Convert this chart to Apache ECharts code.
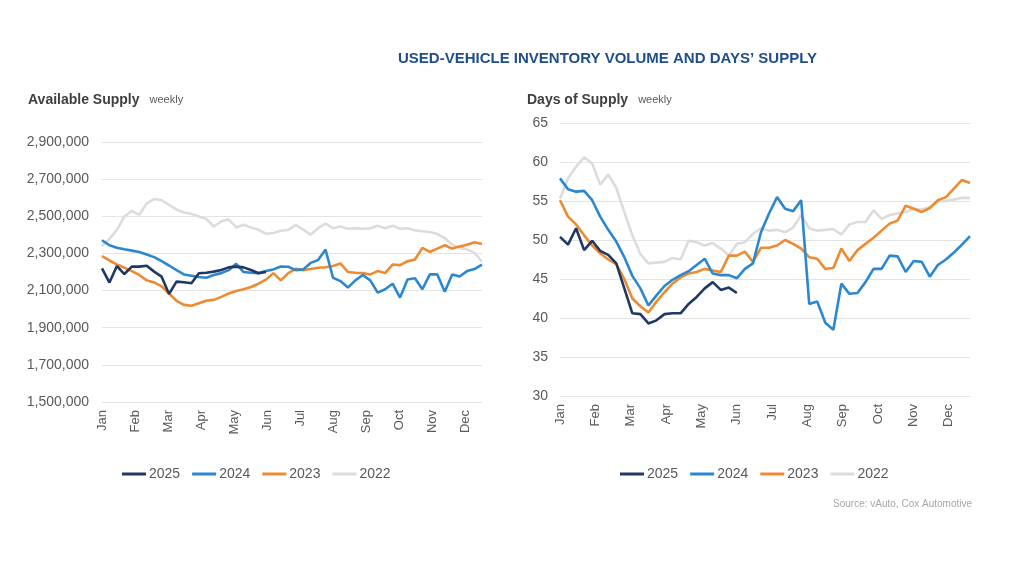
<!DOCTYPE html>
<html>
<head>
<meta charset="utf-8">
<script src="https://cdn.jsdelivr.net/npm/echarts@6/dist/echarts.min.js"></script>
<style>
html,body{margin:0;padding:0;background:#fff;}
#chart{width:1024px;height:576px;}
</style>
</head>
<body>
<div id="chart"></div>
<script>
// ---- Data ----
const weeks = [1,2,3,4,5,6,7,8,9,10,11,12,13,14,15,16,17,18,19,20,21,22,23,24,25,26,
  27,28,29,30,31,32,33,34,35,36,37,38,39,40,41,42,43,44,45,46,47,48,49,50,51,52];
const months = ['Jan','Feb','Mar','Apr','May','Jun','Jul','Aug','Sep','Oct','Nov','Dec'];
const years = ['2025','2024','2023','2022'];

// Available Supply (units), weekly
const supply2025 = [2220000,2143000,2232000,2189000,2229000,2229000,2234000,2202000,2175000,2082000,2148000,2145000,
  2139000,2193000,2196000,2202000,2211000,2225000,2229000,2225000,2211000,2193000,2200000];
const supply2024 = [2371000,2344000,2331000,2322000,2315000,2308000,2294000,2280000,2258000,2235000,2210000,2187000,
  2180000,2173000,2169000,2184000,2194000,2210000,2244000,2200000,2196000,2194000,2205000,2214000,2230000,2228000,
  2210000,2214000,2249000,2264000,2321000,2169000,2151000,2116000,2155000,2184000,2155000,2089000,2107000,2137000,
  2062000,2160000,2166000,2107000,2187000,2187000,2094000,2187000,2176000,2205000,2216000,2240000];
const supply2023 = [2285000,2262000,2240000,2223000,2205000,2184000,2155000,2144000,2123000,2084000,2045000,2023000,
  2018000,2032000,2045000,2050000,2066000,2084000,2098000,2107000,2119000,2137000,2159000,2194000,2155000,2194000,
  2217000,2210000,2216000,2223000,2226000,2232000,2246000,2200000,2196000,2194000,2187000,2205000,2194000,2240000,
  2237000,2258000,2267000,2330000,2308000,2326000,2344000,2326000,2337000,2347000,2360000,2351000];
const supply2022 = [2340000,2378000,2427000,2499000,2529000,2508000,2570000,2593000,2586000,2561000,2536000,2520000,
  2513000,2499000,2486000,2445000,2472000,2484000,2440000,2454000,2440000,2427000,2406000,2410000,2422000,2427000,
  2454000,2428000,2401000,2436000,2460000,2436000,2445000,2433000,2436000,2433000,2436000,2449000,2436000,2449000,
  2433000,2436000,2424000,2419000,2415000,2404000,2383000,2347000,2330000,2322000,2303000,2255000];

// Days of Supply, weekly
const days2025 = [50.4,49.4,51.5,48.7,49.9,48.6,48.1,47.0,43.8,40.6,40.5,39.3,39.7,40.5,40.6,40.6,41.8,42.7,43.8,44.6,43.6,43.9,43.2];
const days2024 = [57.9,56.5,56.2,56.3,55.1,53.0,51.3,49.8,47.8,45.4,43.8,41.6,42.9,44.1,44.9,45.5,46.0,46.8,47.6,45.7,45.5,45.5,
  45.1,46.3,47.0,51.0,53.4,55.5,54.0,53.7,55.1,41.8,42.1,39.4,38.5,44.4,43.1,43.2,44.6,46.3,46.3,48.0,47.9,45.9,47.3,47.2,
  45.3,46.8,47.5,48.4,49.4,50.5];
const days2023 = [55.1,53.0,52.0,50.6,49.3,48.3,47.5,46.9,45.0,42.5,41.5,40.7,42.1,43.3,44.4,45.2,45.7,45.9,46.3,46.1,45.9,48.0,
  48.0,48.5,47.2,49.0,49.0,49.3,50.0,49.5,48.9,47.8,47.6,46.3,46.4,48.9,47.3,48.7,49.5,50.3,51.2,52.1,52.5,54.4,54.0,53.6,
  54.1,55.1,55.5,56.6,57.7,57.3];
const days2022 = [55.3,57.9,59.4,60.6,59.8,57.1,58.4,56.7,53.6,50.6,48.2,47.0,47.1,47.2,47.7,47.5,49.9,49.7,49.3,49.6,48.9,48.0,
  49.5,49.7,50.8,51.5,51.2,51.3,51.0,51.6,53.2,51.5,51.2,51.3,51.4,50.7,52.0,52.3,52.3,53.8,52.7,53.2,53.4,53.6,54.0,53.9,
  54.2,54.9,55.0,55.2,55.4,55.4];

const supplySeries = [supply2025, supply2024, supply2023, supply2022];
const daysSeries = [days2025, days2024, days2023, days2022];
const colors = ['#1F3864', '#2B87CF', '#EE8B30', '#DCDCDC'];

// ---- Chart ----
const FONT = '"Liberation Sans", Arial, sans-serif';
const labelColor = '#595959';
const gridColor = '#E4E4E4';

function monthAxis(gridIndex, maxMonths) {
  return {
    type: 'value', gridIndex: gridIndex, min: 0, max: maxMonths, interval: 1, position: 'bottom',
    axisLine: {show: false}, axisTick: {show: false}, splitLine: {show: false},
    axisLabel: {
      rotate: 90, margin: 8, fontSize: 13, color: labelColor, fontFamily: FONT,
      showMaxLabel: false,
      formatter: v => (Number.isInteger(v) && months[v]) ? months[v] : ''
    }
  };
}
function weekAxis(gridIndex) {
  return {type: 'category', gridIndex: gridIndex, data: weeks, boundaryGap: false, show: false};
}

const series = [];
years.forEach((y, k) => {
  series.push({
    name: y, type: 'line', xAxisIndex: 0, yAxisIndex: 0, data: supplySeries[k],
    symbol: 'none', color: colors[k], lineStyle: {width: 2.6, color: colors[k]}, z: 10 - k
  });
  series.push({
    name: y, type: 'line', xAxisIndex: 2, yAxisIndex: 1, data: daysSeries[k],
    symbol: 'none', color: colors[k], lineStyle: {width: 2.6, color: colors[k]}, z: 10 - k
  });
});

const legendCommon = {
  data: years, icon: 'rect', itemWidth: 24, itemHeight: 3, itemGap: 12, padding: 0,
  textStyle: {fontSize: 14, color: labelColor, fontFamily: FONT, padding: [0, 0, 0, -2]}
};

const subRich = {
  a: {fontSize: 14, fontWeight: 'bold', color: '#404040', fontFamily: FONT},
  b: {fontSize: 11, fontWeight: 'normal', color: '#595959', fontFamily: FONT}
};

const chart = echarts.init(document.getElementById('chart'), null, {renderer: 'canvas'});
chart.setOption({
  animation: false,
  backgroundColor: '#ffffff',
  title: [
    {
      text: 'USED-VEHICLE INVENTORY VOLUME AND DAYS\u2019 SUPPLY',
      left: 398, top: 51, padding: 0,
      textStyle: {fontSize: 15, fontWeight: 'bold', color: '#1F4E8C', fontFamily: FONT}
    },
    {
      text: '{a|Available Supply}  {b|weekly}',
      left: 28, top: 91, padding: 0,
      textStyle: {fontFamily: FONT, fontWeight: 'normal', rich: subRich}
    },
    {
      text: '{a|Days of Supply}  {b|weekly}',
      left: 527, top: 91, padding: 0,
      textStyle: {fontFamily: FONT, fontWeight: 'normal', rich: subRich}
    }
  ],
  legend: [
    Object.assign({left: 122, top: 467}, legendCommon),
    Object.assign({left: 620, top: 467}, legendCommon)
  ],
  grid: [
    {left: 102, right: 542, top: 142, bottom: 174},
    {left: 560, right: 54, top: 123, bottom: 180}
  ],
  xAxis: [weekAxis(0), monthAxis(0, 11.5), weekAxis(1), monthAxis(1, 11.6)],
  yAxis: [
    {
      type: 'value', gridIndex: 0, min: 1500000, max: 2900000, interval: 200000,
      axisLine: {show: false}, axisTick: {show: false},
      splitLine: {lineStyle: {color: gridColor, width: 1}},
      axisLabel: {fontSize: 14, color: labelColor, margin: 13, fontFamily: FONT,
        formatter: v => v.toLocaleString('en-US')}
    },
    {
      type: 'value', gridIndex: 1, min: 30, max: 65, interval: 5,
      axisLine: {show: false}, axisTick: {show: false},
      splitLine: {lineStyle: {color: gridColor, width: 1}},
      axisLabel: {fontSize: 14, color: labelColor, margin: 12, fontFamily: FONT}
    }
  ],
  graphic: [
    {
      type: 'text', right: 52, top: 499,
      style: {text: 'Source: vAuto, Cox Automotive', fontSize: 10, fill: '#A6A6A6', fontFamily: FONT}
    }
  ],
  series: series
});
</script>
</body>
</html>
